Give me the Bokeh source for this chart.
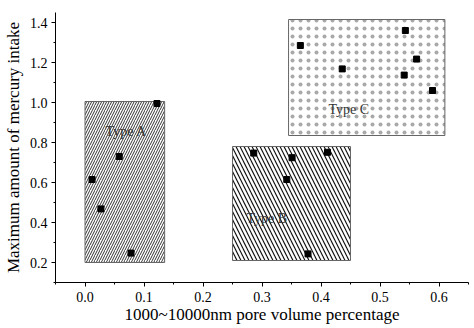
from bokeh.plotting import figure
from bokeh.models import FixedTicker, Range1d
from bokeh.core.properties import value
from bokeh.embed import file_html
from bokeh.resources import INLINE

# ---- data ----
x_ticks = [0.0, 0.1, 0.2, 0.3, 0.4, 0.5, 0.6]
x_tick_labels = ["0.0", "0.1", "0.2", "0.3", "0.4", "0.5", "0.6"]
x_minor = [-0.05, 0.05, 0.15, 0.25, 0.35, 0.45, 0.55, 0.65]
y_ticks = [0.2, 0.4, 0.6, 0.8, 1.0, 1.2, 1.4]
y_tick_labels = ["0.2", "0.4", "0.6", "0.8", "1.0", "1.2", "1.4"]
y_minor = [0.1, 0.3, 0.5, 0.7, 0.9, 1.1, 1.3]

type_names = ["Type A", "Type B", "Type C"]
box_left = [0.0, 0.25, 0.345]
box_right = [0.135, 0.45, 0.61]
box_bottom = [0.2, 0.21, 0.835]
box_top = [1.005, 0.78, 1.415]
label_x = [0.07, 0.308, 0.447]
label_y = [0.856, 0.42, 0.963]

a_x = [0.122, 0.058, 0.012, 0.027, 0.078]
a_y = [0.995, 0.730, 0.615, 0.468, 0.247]
b_x = [0.286, 0.351, 0.411, 0.342, 0.378]
b_y = [0.747, 0.724, 0.751, 0.615, 0.243]
c_x = [0.365, 0.436, 0.543, 0.562, 0.541, 0.589]
c_y = [1.285, 1.168, 1.360, 1.217, 1.137, 1.060]

FONT = "Liberation Serif"

p = figure(width=474, height=328, x_range=Range1d(-0.05, 0.65),
           y_range=Range1d(0.1, 1.45), output_backend="svg",
           toolbar_location=None, min_border_left=52, min_border_right=6,
           min_border_top=12, min_border_bottom=46)
p.outline_line_color = None
p.xgrid.grid_line_color = None
p.ygrid.grid_line_color = None
p.background_fill_color = "white"
p.border_fill_color = "white"

# Type A
p.quad(left=[box_left[0]], right=[box_right[0]], bottom=[box_bottom[0]],
       top=[box_top[0]], fill_color="white", line_color="#666666",
       hatch_pattern="right_diagonal_line", hatch_scale=5,
       hatch_color="#333333", hatch_weight=1)
# Type B
p.quad(left=[box_left[1]], right=[box_right[1]], bottom=[box_bottom[1]],
       top=[box_top[1]], fill_color="white", line_color="#666666",
       hatch_pattern="left_diagonal_line", hatch_scale=8,
       hatch_color="#111111", hatch_weight=1.2)
# Type C
p.quad(left=[box_left[2]], right=[box_right[2]], bottom=[box_bottom[2]],
       top=[box_top[2]], fill_color="white", line_color="#666666",
       hatch_pattern="dot", hatch_scale=8, hatch_color="#a8a8a8",
       hatch_weight=0.3)

p.text(x=label_x, y=label_y, text=type_names, text_font=value(FONT),
       text_font_size="14px", text_color="#333333", text_align="center",
       text_baseline="middle")

for xs, ys in [(a_x, a_y), (b_x, b_y), (c_x, c_y)]:
    p.scatter(xs, ys, marker="square", size=6, fill_color="black",
              line_color="black")

for ax in (p.xaxis[0], p.yaxis[0]):
    ax.axis_line_color = "black"
    ax.major_tick_line_color = "black"
    ax.minor_tick_line_color = "black"
    ax.major_tick_out = 4
    ax.major_tick_in = 0
    ax.minor_tick_out = 2
    ax.minor_tick_in = 0
    ax.major_label_text_font = FONT
    ax.major_label_text_font_size = "14px"
    ax.major_label_text_color = "black"
    ax.axis_label_text_font = FONT
    ax.axis_label_text_font_size = "17px"
    ax.axis_label_text_font_style = "normal"
    ax.axis_label_text_color = "black"

p.xaxis.ticker = FixedTicker(ticks=x_ticks, minor_ticks=x_minor)
p.xaxis.major_label_overrides = dict(zip(x_ticks, x_tick_labels))
p.yaxis.ticker = FixedTicker(ticks=y_ticks, minor_ticks=y_minor)
p.yaxis.major_label_overrides = dict(zip(y_ticks, y_tick_labels))
p.xaxis.axis_label = "1000~10000nm pore volume percentage"
p.yaxis.axis_label = "Maximum amount of mercury intake"
p.xaxis.major_label_standoff = 5
p.yaxis.major_label_standoff = 4
p.xaxis.axis_label_standoff = 0
p.yaxis.axis_label_standoff = 4

open("out.html", "w").write(file_html(p, INLINE))
